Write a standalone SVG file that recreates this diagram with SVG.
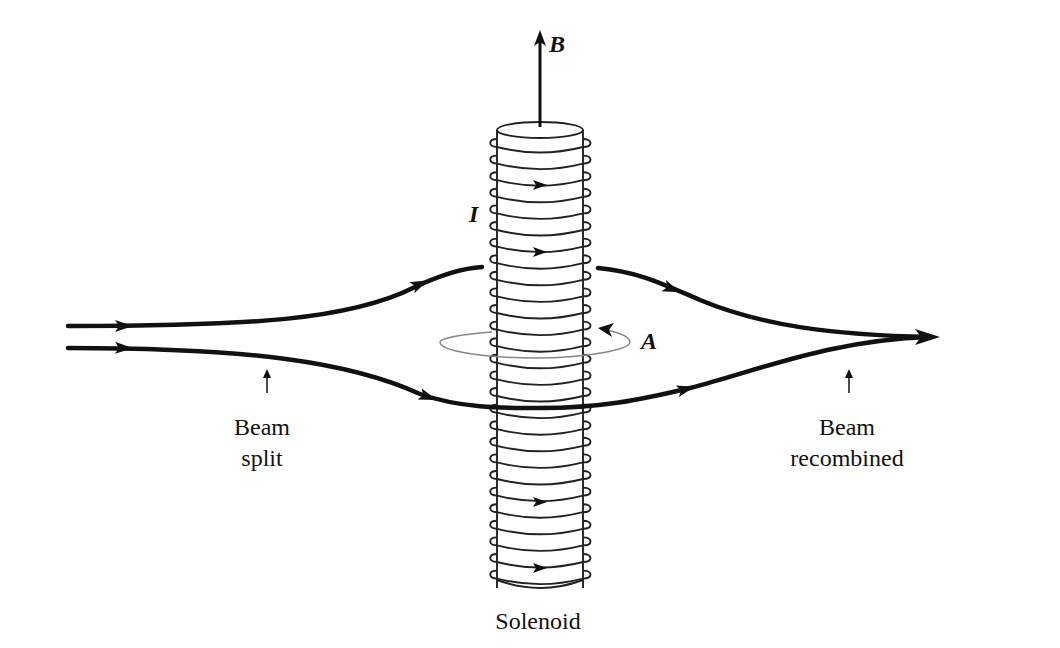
<svg xmlns="http://www.w3.org/2000/svg" width="1060" height="648" viewBox="0 0 1060 648">
<style>
.t{font-family:"Liberation Serif",serif;font-size:24px;fill:#111;text-anchor:middle}
.v{font-family:"Liberation Serif",serif;font-size:24px;font-style:italic;font-weight:bold;fill:#111}
.beam{fill:none;stroke:#111;stroke-width:4.5;stroke-linecap:round}
.coil{fill:none;stroke:#222;stroke-width:1.9}
</style>
<defs>
<path id="tri" d="M-9,-6 L9,0 L-9,6 L-5,0 Z" fill="#111"/>
<path id="tris" d="M-7,-5 L7,0 L-7,5 L-4,0 Z" fill="#111"/>
<path id="turn" d="M497,-7 C488,-7 488,1 497,1 Q540,12 583,1 C593,1 593,-7 583,-7"/>
</defs>
<rect width="1060" height="648" fill="#fff"/>
<g id="solenoid" class="coil">
<line x1="497" y1="130" x2="497" y2="588"/>
<line x1="583" y1="130" x2="583" y2="588"/>
<ellipse cx="540" cy="130" rx="43" ry="8" fill="#fff"/>
<path d="M497,580 Q540,596 583,580"/>
<g id="turns">
<use href="#turn" y="146"/><use href="#turn" y="162.6"/><use href="#turn" y="179.2"/><use href="#turn" y="195.8"/><use href="#turn" y="212.4"/><use href="#turn" y="229"/><use href="#turn" y="245.6"/><use href="#turn" y="262.2"/><use href="#turn" y="278.8"/><use href="#turn" y="295.4"/><use href="#turn" y="312"/><use href="#turn" y="328.6"/><use href="#turn" y="345.2"/><use href="#turn" y="361.8"/><use href="#turn" y="378.4"/><use href="#turn" y="395"/><use href="#turn" y="411.6"/><use href="#turn" y="428.2"/><use href="#turn" y="444.8"/><use href="#turn" y="461.4"/><use href="#turn" y="478"/><use href="#turn" y="494.6"/><use href="#turn" y="511.2"/><use href="#turn" y="527.8"/><use href="#turn" y="544.4"/><use href="#turn" y="561"/><use href="#turn" y="577.6"/>
</g>
<use href="#tris" x="540" y="185" stroke="none"/>
<use href="#tris" x="540" y="252" stroke="none"/>
<use href="#tris" x="540" y="502" stroke="none"/>
<use href="#tris" x="540" y="568" stroke="none"/>
</g>
<g id="fieldB">
<line x1="540" y1="127" x2="540" y2="40" stroke="#111" stroke-width="3"/>
<path d="M540,30 L546,46 L540,42 L534,46 Z" fill="#111"/>
<text class="v" x="549" y="52">B</text>
</g>
<text class="v" x="469" y="222" font-weight="normal">I</text>
<g id="potentialA">
<path d="M492,332 C455,335 440,339 440,342 C440,352 490,358 535,358 C585,358 630,350 630,342 C630,336 615,331 600,329" fill="none" stroke="#888" stroke-width="1.5"/>
<path d="M598,328 L614,323 L609,330 L612,337 Z" fill="#111"/>
<text class="v" x="641" y="349">A</text>
</g>
<g id="connectors">
<path class="beam" d="M68,326 C250,326 350,320 415,287 C445,273 465,268 482,267"/>
<path class="beam" d="M598,268 C640,272 665,285 700,300 C760,325 830,335 930,337"/>
<path class="beam" d="M68,348 C250,348 350,362 420,394 C460,408 500,408 540,408 C600,408 640,400 690,388 C760,370 830,340 930,337"/>
<use href="#tri" transform="translate(124,326)"/>
<use href="#tri" transform="translate(124,348) rotate(1)"/>
<use href="#tri" transform="translate(420,284) rotate(-25)"/>
<use href="#tri" transform="translate(428,397) rotate(20)"/>
<use href="#tri" transform="translate(672,289) rotate(22)"/>
<use href="#tri" transform="translate(686,389) rotate(-15)"/>
<path d="M940,337 L915,329 L921,337 L915,345 Z" fill="#111"/>
<line x1="267" y1="393" x2="267" y2="376" stroke="#111" stroke-width="1.5"/>
<path d="M267,369 L271,378 L263,378 Z" fill="#111"/>
<line x1="849" y1="393" x2="849" y2="376" stroke="#111" stroke-width="1.5"/>
<path d="M849,369 L853,378 L845,378 Z" fill="#111"/>
</g>
<text class="t" x="262" y="435">Beam</text>
<text class="t" x="262" y="466">split</text>
<text class="t" x="847" y="435">Beam</text>
<text class="t" x="847" y="466">recombined</text>
<text class="t" x="538" y="629">Solenoid</text>
</svg>
